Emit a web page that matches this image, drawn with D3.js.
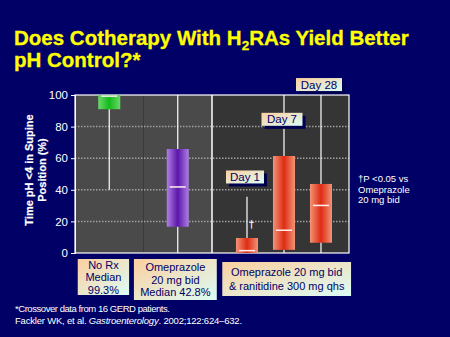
<!DOCTYPE html>
<html><head><meta charset="utf-8">
<script src="https://cdn.jsdelivr.net/npm/d3@7"></script>
<style>
html,body{margin:0;padding:0;background:#000066;}
svg{display:block;font-family:Arial,"Liberation Sans",sans-serif;}
</style></head>
<body><svg id="c" width="450" height="337"></svg>
<script>
// ---------- data ----------
const groups = ["No Rx", "Omeprazole", "Combination"];
const categories = ["No Rx", "Omeprazole", "Day 1", "Day 7", "Day 28"];
const categoryGroup = ["No Rx", "Omeprazole", "Combination", "Combination", "Combination"];
const whiskerLow  = [40, 0, 0, 0, 0];
const boxLow      = [91, 16.6, 0, 2, 6.5];
const median      = [99.3, 41.8, 1.5, 14.4, 30.1];
const boxHigh     = [100, 65.8, 9.5, 61.4, 43.7];
const whiskerHigh = [100, 100, 35.6, 100, 100];
const yTicks = [0, 20, 40, 60, 80, 100];
const dayLabelValue = [44, 80.5, 102.5];
const groupLabels = [["No Rx", "Median", "99.3%"], ["Omeprazole", "20 mg  bid", "Median 42.8%"], ["Omeprazole 20 mg bid", "& ranitidine 300 mg qhs"]];
const titleLines = ["Does Cotherapy With H|2|RAs Yield Better", "pH Control?*"];
const yTitle = ["Time pH <4 in Supine", "Position (%)"];
const noteLines = ["\u2020P <0.05 vs", "Omeprazole", "20 mg bid"];
const footnote = ["*Crossover data from 16 GERD patients.", "Fackler WK, et al. ", "Gastroenterology", ". 2002;122:624\u2013632."];

// ---------- layout ----------
const svg = d3.select("#c");
const plot = {left: 75, right: 349, top: 95, bottom: 253};
const y = d3.scaleLinear().domain([0, 100]).range([plot.bottom, plot.top]);
const groupSpan = {"No Rx": [0, 1], "Omeprazole": [1, 2], "Combination": [2, 4]};
const sx = d3.scaleLinear().domain([0, 4]).range([plot.left, plot.right]);
const step = 37, pin = 0.405;
const bandScales = {};
groups.forEach(g => {
  const members = categories.filter((c, i) => categoryGroup[i] === g);
  const w = sx(groupSpan[g][1]) - sx(groupSpan[g][0]);
  const po = (w / step - members.length + pin) / 2;
  bandScales[g] = d3.scaleBand().domain(members).range([sx(groupSpan[g][0]), sx(groupSpan[g][1])])
    .paddingInner(pin).paddingOuter(po).align(g === "Combination" ? 0.585 : 0.5);
});
const bx = (c, i) => bandScales[categoryGroup[i]](c);
const bw = (i) => bandScales[categoryGroup[i]].bandwidth();

const defs = svg.append("defs");
function hgrad(id, edge, mid) {
  const g = defs.append("linearGradient").attr("id", id).attr("x1", 0).attr("x2", 1).attr("y1", 0).attr("y2", 0);
  g.append("stop").attr("offset", "0%").attr("stop-color", edge);
  g.append("stop").attr("offset", "50%").attr("stop-color", mid);
  g.append("stop").attr("offset", "100%").attr("stop-color", edge);
}
hgrad("gGreen", "#6ad86a", "#14bb1a");
hgrad("gPurple", "#ad80e2", "#5c16ab");
hgrad("gRed", "#f29478", "#de2c12");
const lg = defs.append("linearGradient").attr("id", "gLabel").attr("x1", 0).attr("y1", 0).attr("x2", 1).attr("y2", 1);
lg.append("stop").attr("offset", "0%").attr("stop-color", "#fbcf9e");
lg.append("stop").attr("offset", "100%").attr("stop-color", "#dcfcf6");
const boxFill = ["url(#gGreen)", "url(#gPurple)", "url(#gRed)", "url(#gRed)", "url(#gRed)"];

// ---------- title ----------
const title = svg.append("text").attr("fill", "#ffff00").attr("font-weight", "bold").attr("font-size", 20.5)
  .attr("stroke", "#ffff00").attr("stroke-width", 0.3);
titleLines.forEach((line, li) => {
  const t = title.append("tspan").attr("x", 14).attr("y", li === 0 ? 45 : 67);
  const parts = line.split("|");
  parts.forEach((p, pi) => {
    if (pi === 1) t.append("tspan").attr("font-size", 13.5).attr("dy", 5).text(p);
    else if (pi === 2) title.append("tspan").attr("dy", -5).text(p);
    else t.text(p);
  });
});

// ---------- plot backgrounds ----------
groups.forEach((g, i) => {
  svg.append("rect").attr("x", sx(groupSpan[g][0])).attr("y", plot.top)
    .attr("width", sx(groupSpan[g][1]) - sx(groupSpan[g][0])).attr("height", plot.bottom - plot.top)
    .attr("fill", g === "Combination" ? "#353535" : "#4a4a4a");
});
// gridlines
svg.append("g").selectAll("line").data(yTicks.filter(t => t > 0 && t < 100)).join("line")
  .attr("x1", plot.left).attr("x2", plot.right).attr("y1", d => y(d)).attr("y2", d => y(d))
  .attr("stroke", "#a0a0a0").attr("stroke-width", 1.5).attr("stroke-dasharray", "1.5,1.5");
// section divider
svg.append("line").attr("x1", sx(2)).attr("x2", sx(2)).attr("y1", plot.top).attr("y2", plot.bottom)
  .attr("stroke", "#ffffff").attr("stroke-width", 1.5);
// frame
svg.append("rect").attr("x", plot.left).attr("y", plot.top).attr("width", plot.right - plot.left)
  .attr("height", plot.bottom - plot.top).attr("fill", "none").attr("stroke", "#ffffff").attr("stroke-width", 1.2);

// ---------- y axis ----------
const yAxis = svg.append("g").attr("transform", `translate(${plot.left},0)`)
  .call(d3.axisLeft(y).tickValues(yTicks).tickSize(4).tickPadding(3));
yAxis.select(".domain").attr("stroke", "#ffffff");
yAxis.selectAll(".tick line").attr("stroke", "#ffffff");
yAxis.selectAll(".tick text").attr("fill", "#ffffff").attr("font-size", 11.5).attr("font-family", "Arial, 'Liberation Sans', sans-serif");

const yt = svg.append("text").attr("transform", "translate(33,170) rotate(-90)")
  .attr("text-anchor", "middle").attr("fill", "#ffffff").attr("font-weight", "bold").attr("font-size", 11)
  .attr("stroke", "#ffffff").attr("stroke-width", 0.2);
yTitle.forEach((l, i) => yt.append("tspan").attr("x", 0).attr("dy", i === 0 ? 0 : 12.5).text(l));

// ---------- boxes ----------
const idx = d3.range(categories.length);
const marks = svg.append("g");
// whiskers
marks.selectAll("line.whisk").data(idx).join("line").attr("class", "whisk")
  .attr("x1", i => bx(categories[i], i) + bw(i) / 2).attr("x2", i => bx(categories[i], i) + bw(i) / 2)
  .attr("y1", i => y(whiskerLow[i])).attr("y2", i => y(whiskerHigh[i]))
  .attr("stroke", "#ffffff").attr("stroke-width", 1.2);
marks.selectAll("rect.box").data(idx).join("rect").attr("class", "box")
  .attr("x", i => bx(categories[i], i)).attr("width", i => bw(i))
  .attr("y", i => y(boxHigh[i])).attr("height", i => y(boxLow[i]) - y(boxHigh[i]))
  .attr("fill", i => boxFill[i]);
marks.selectAll("line.med").data(idx).join("line").attr("class", "med")
  .attr("x1", i => bx(categories[i], i) + 3).attr("x2", i => bx(categories[i], i) + bw(i) - 3)
  .attr("y1", i => y(median[i])).attr("y2", i => y(median[i]))
  .attr("stroke", "#fff0f0").attr("stroke-width", 1.5);

// dagger on Day 1
svg.append("text").attr("x", bx("Day 1", 2) + bw(2) / 2 + 2).attr("y", y(boxHigh[2]) - 10)
  .attr("fill", "#ffffff").attr("font-family", "DejaVu Sans").attr("font-size", 10).text("\u2020");

// ---------- day labels ----------
["Day 1", "Day 7", "Day 28"].forEach((d, k) => {
  const i = categories.indexOf(d);
  const cx = bx(d, i) + bw(i) / 2 - 2;
  const w = d === "Day 28" ? 46 : (d === "Day 7" ? 41 : 38), h = 13;
  const yb = y(dayLabelValue[k]);
  const g = svg.append("g");
  g.append("rect").attr("x", cx - w / 2 + 3).attr("y", yb - h + 3).attr("width", w).attr("height", h).attr("fill", "#000050");
  g.append("rect").attr("x", cx - w / 2).attr("y", yb - h).attr("width", w).attr("height", h).attr("fill", "url(#gLabel)");
  g.append("text").attr("x", cx).attr("y", yb - 2.5).attr("text-anchor", "middle")
    .attr("fill", "#000066").attr("font-size", 11.5).text(d);
});

// ---------- right note ----------
const note = svg.append("text").attr("fill", "#ffffff").attr("font-size", 9.5);
noteLines.forEach((l, i) => note.append("tspan").attr("x", 358).attr("y", 182 + i * 10.5).text(l));

// ---------- group labels under axis ----------
const footSpan = [[0.04, 0.79], [0.86, 2.07], [2.15, 4.03]];
const footY = [[259, 295], [259, 300], [262, 296]];
groupLabels.forEach((lines, i) => {
  const x0 = sx(footSpan[i][0]), x1 = sx(footSpan[i][1]);
  svg.append("rect").attr("x", x0).attr("y", footY[i][0]).attr("width", x1 - x0)
    .attr("height", footY[i][1] - footY[i][0]).attr("fill", "url(#gLabel)");
  const lh = lines.length === 3 ? 12.5 : 14;
  const ym = (footY[i][0] + footY[i][1]) / 2;
  const first = ym - (lines.length - 1) * lh / 2 + 4;
  const t = svg.append("text").attr("text-anchor", "middle").attr("fill", "#000066").attr("font-size", 11);
  lines.forEach((l, j) => t.append("tspan").attr("x", (x0 + x1) / 2).attr("y", first + j * lh).text(l));
});

// ---------- footnote ----------
const fn = svg.append("g").attr("fill", "#ffffff").attr("font-size", 9.5);
fn.append("text").attr("x", 15).attr("y", 312).attr("letter-spacing", -0.45).text(footnote[0]);
const f2 = fn.append("text").attr("x", 15).attr("y", 324).attr("letter-spacing", -0.2);
f2.append("tspan").text(footnote[1]);
f2.append("tspan").attr("font-style", "italic").text(footnote[2]);
f2.append("tspan").text(footnote[3]);
</script></body></html>
